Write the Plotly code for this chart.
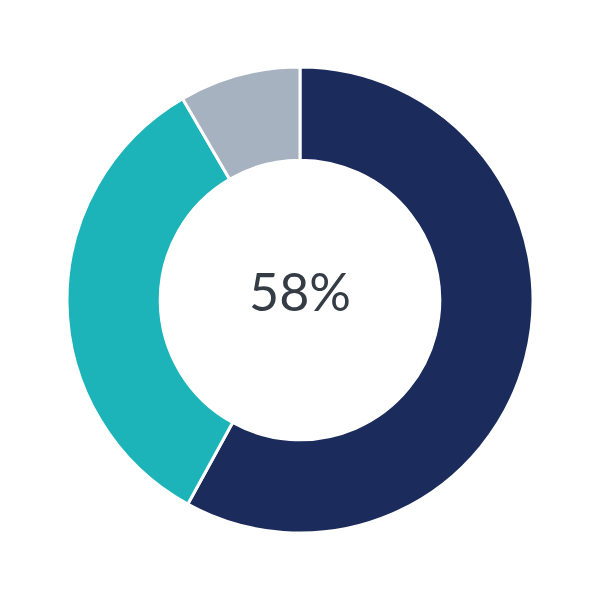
import plotly.graph_objects as go

labels = ["A", "B", "C"]
values = [58, 33.6, 8.4]
colors = ["#1b2b5b", "#1cb4b8", "#a7b2c1"]
center_text = "58%"

fig = go.Figure(go.Pie(
    labels=labels,
    values=values,
    hole=0.6,
    sort=False,
    direction="clockwise",
    rotation=0,
    marker=dict(colors=colors, line=dict(color="white", width=3)),
    textinfo="none",
    hoverinfo="none",
    showlegend=False,
))

# center label sits a touch above the hole's middle
fig.add_annotation(
    text=center_text, x=0.5, y=0.5, xref="paper", yref="paper",
    showarrow=False, yshift=9,
    font=dict(family="Lato", size=52, color="#353c45"),
)

# page body adds 8px, so margins are shifted to keep the ring centred
fig.update_layout(
    width=600, height=600,
    margin=dict(l=59, r=75, t=59, b=75),
    paper_bgcolor="white", plot_bgcolor="white",
)

fig.write_html("out.html")
